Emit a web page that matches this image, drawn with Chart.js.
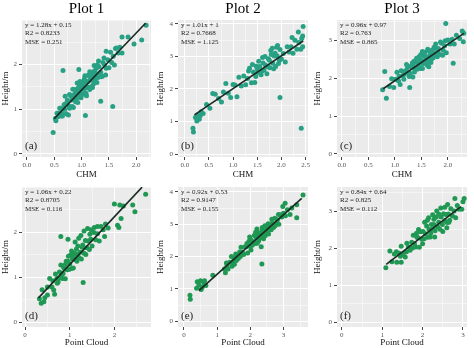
<!DOCTYPE html>
<html>
<head>
<meta charset="utf-8">
<script src="https://cdn.jsdelivr.net/npm/chart.js@4.4.1/dist/chart.umd.min.js"></script>
<style>
  body { margin: 0; background: #fff; width: 474px; height: 348px; position: relative; overflow: hidden; }
  canvas { position: absolute; }
</style>
</head>
<body>
<canvas id="c0"></canvas><canvas id="c1"></canvas><canvas id="c2"></canvas>
<canvas id="c3"></canvas><canvas id="c4"></canvas><canvas id="c5"></canvas>
<script>
// measured heights: x = CHM / point cloud, y = reference height (m)
const ptsA = [[0.52,0.79],[0.55,0.91],[0.53,0.74],[0.58,0.91],[0.60,1.02],[0.57,0.83],[0.63,0.85],[0.62,1.02],[0.66,1.00],[0.65,0.85],[0.68,1.10],[0.70,1.29],[0.69,1.00],[0.72,0.90],[0.74,1.20],[0.73,1.13],[0.76,0.87],[0.78,1.33],[0.77,1.07],[0.80,1.30],[0.79,1.05],[0.82,1.21],[0.84,1.45],[0.83,1.06],[0.86,1.32],[0.85,1.04],[0.88,1.44],[0.87,1.24],[0.90,1.39],[0.89,1.17],[0.92,1.59],[0.91,1.26],[0.94,1.39],[0.93,1.15],[0.96,1.52],[0.95,1.27],[0.98,1.59],[0.97,1.35],[1.00,1.54],[0.99,1.26],
  [1.02,1.61],[1.01,1.44],[1.04,1.35],[1.03,1.55],[1.06,1.75],[1.05,1.46],[1.08,1.36],[1.07,1.62],[1.10,1.61],[1.09,1.30],[1.12,1.76],[1.11,1.50],[1.14,1.74],[1.13,1.49],[1.16,1.65],[1.15,1.84],[1.18,1.51],[1.17,1.72],[1.20,1.49],[1.19,1.83],[1.22,1.69],[1.21,1.79],[1.24,1.62],[1.23,1.98],[1.26,1.70],[1.25,1.79],[1.28,1.60],[1.27,1.92],[1.30,1.71],[1.29,1.99],[1.33,1.81],[1.32,1.95],[1.36,1.73],[1.35,1.83],[1.39,2.05],[1.38,1.74],[1.42,2.00],[1.41,2.15],[1.45,1.92],[1.44,1.77],
  [1.48,2.11],[1.50,1.93],[1.53,2.28],[1.55,2.05],[1.58,2.19],[1.60,1.99],[1.64,2.37],[1.67,2.26],[1.70,2.39],[1.74,2.26],
  [0.88,1.35],[0.94,1.48],[1.00,1.32],[1.05,1.68],[1.12,1.62],[1.18,1.78],[1.24,1.86],[0.78,1.02],[0.70,1.12],[0.64,0.90],[1.31,2.08],[1.15,1.44],[0.97,1.62],[1.08,1.48],[1.22,1.57],
  [0.66,1.87],[0.95,1.89],[1.35,1.18],[1.57,1.06],[1.07,0.86],[0.48,0.48],[2.18,2.88],[2.10,2.55],[1.96,2.46],[1.74,2.62],[1.85,2.62],[1.45,2.30],[1.62,2.36]];
const ptsB = [[0.22,1.12],[0.26,1.20],[0.30,1.07],[0.34,1.30],[0.45,1.52],[0.52,1.41],[0.58,1.86],[0.63,1.84],[0.70,1.71],[0.76,1.60],[0.80,1.91],[0.85,2.17],[0.90,1.87],[0.95,1.74],[1.00,2.14],[1.04,2.12],[1.08,1.76],[1.12,2.36],[1.17,2.09],[1.22,2.40],[1.26,2.13],[1.30,2.32],[1.34,2.64],[1.38,2.19],[1.42,2.52],[1.45,2.20],[1.48,2.70],[1.52,2.51],[1.55,2.69],[1.58,2.44],[1.61,2.97],[1.64,2.58],[1.67,2.74],[1.70,2.47],[1.73,2.93],[1.76,2.65],[1.79,3.06],[1.82,2.79],[1.85,3.01],[1.88,2.69],[1.91,3.02],[1.94,2.78],[1.97,3.21],[2.00,2.92],[2.04,3.09],
  [2.08,2.83],[2.12,3.30],[2.16,3.14],[2.20,3.30],[2.24,3.10],[2.28,3.50],[2.32,3.22],[2.36,3.43],[2.40,3.22],[2.44,3.63],
  [1.32,2.55],[1.40,2.75],[1.47,2.38],[1.53,2.85],[1.60,2.55],[1.66,3.00],[1.72,2.68],[1.78,3.18],[1.84,2.62],[1.90,3.28],[1.96,2.88],[1.50,2.62],[1.62,2.80],[1.75,2.88],[1.87,3.10],[1.92,3.34],[1.81,3.25],[2.35,3.75],[2.42,3.55],[2.45,3.92],[2.44,3.30],[2.22,3.58],[0.25,1.02],[0.32,1.18],[0.38,1.25],
  [0.17,0.79],[0.18,0.68],[2.41,0.79],[1.97,1.74]];
const ptsC = [[0.90,1.78],[0.94,1.98],[0.98,1.75],[1.01,1.97],[1.04,2.15],[1.07,1.92],[1.10,1.83],[1.12,2.19],[1.15,2.07],[1.17,1.97],[1.20,2.19],[1.22,2.36],[1.25,2.14],[1.27,2.04],[1.30,2.31],[1.32,2.29],[1.34,2.03],[1.36,2.44],[1.38,2.24],[1.40,2.43],[1.42,2.23],[1.44,2.36],[1.46,2.57],[1.48,2.25],[1.50,2.47],[1.52,2.25],[1.54,2.59],[1.56,2.45],[1.58,2.57],[1.60,2.40],[1.62,2.76],[1.64,2.49],[1.66,2.60],[1.68,2.41],[1.70,2.73],[1.72,2.53],[1.74,2.81],[1.76,2.62],[1.78,2.78],[1.80,2.56],
  [1.82,2.78],[1.85,2.62],[1.88,2.92],[1.91,2.73],[1.94,2.85],[1.97,2.67],[2.00,3.00],[2.04,2.90],[2.08,3.02],[2.12,2.90],[2.16,3.13],[2.22,3.04],
  [1.24,2.28],[1.29,2.12],[1.33,2.40],[1.37,2.16],[1.41,2.52],[1.45,2.30],[1.49,2.62],[1.53,2.38],[1.57,2.68],[1.61,2.34],[1.65,2.72],[1.69,2.50],[1.73,2.66],[1.77,2.90],[1.81,2.70],[1.86,2.95],[1.47,2.44],[1.59,2.52],[1.35,2.33],[1.18,2.10],[1.08,2.05],[1.90,2.60],[1.95,2.98],[1.52,2.70],[1.64,2.30],
  [0.84,1.47],[0.77,1.69],[0.81,2.17],[1.96,3.44],[2.29,2.96],[2.10,2.39],[1.28,1.75],[2.27,3.24],[2.30,3.18]];
const ptsD = [[0.32,0.52],[0.38,0.72],[0.44,0.54],[0.50,0.78],[0.55,0.97],[0.60,0.78],[0.64,0.71],[0.68,1.07],[0.71,0.97],[0.74,0.89],[0.77,1.11],[0.80,1.27],[0.82,1.06],[0.84,0.97],[0.86,1.22],[0.88,1.19],[0.90,0.96],[0.92,1.35],[0.94,1.16],[0.96,1.35],[0.98,1.17],[1.00,1.29],[1.02,1.49],[1.04,1.19],[1.06,1.40],[1.08,1.20],[1.10,1.53],[1.12,1.39],[1.14,1.51],[1.16,1.35],[1.18,1.69],[1.20,1.44],[1.23,1.55],[1.26,1.40],[1.29,1.71],[1.32,1.53],[1.35,1.81],[1.38,1.65],[1.41,1.80],[1.44,1.61],
  [1.47,1.84],[1.50,1.69],[1.54,1.99],[1.58,1.83],[1.62,1.96],[1.66,1.80],[1.70,2.12],[1.75,2.05],[1.80,2.18],[1.86,2.09],
  [1.25,1.92],[1.32,2.02],[1.40,2.08],[1.48,2.05],[1.55,2.10],[1.62,2.12],[1.12,1.78],[1.20,1.86],[0.90,1.28],[0.97,1.46],[1.04,1.58],[0.85,1.08],[0.78,0.98],[0.72,0.86],[1.15,1.62],[1.28,1.66],[1.36,1.50],[1.45,1.95],[1.08,1.44],[0.62,0.92],[0.50,0.60],[0.42,0.45],[0.36,0.42],[0.66,0.62],
  [0.80,1.90],[0.96,1.84],[1.30,0.88],[2.70,2.84],[2.41,2.60],[2.46,2.45],[2.07,2.15],[2.10,2.10],[1.78,1.90],[2.12,2.60],[2.20,2.58],[2.00,2.62],[2.15,2.30]];
const ptsE = [[1.22,1.61],[1.28,1.80],[1.33,1.61],[1.38,1.82],[1.43,2.00],[1.48,1.82],[1.52,1.76],[1.56,2.08],[1.60,2.00],[1.64,1.94],[1.68,2.14],[1.72,2.29],[1.76,2.13],[1.80,2.06],[1.84,2.30],[1.88,2.30],[1.92,2.11],[1.96,2.47],[2.00,2.32],[2.03,2.50],[2.06,2.35],[2.09,2.46],[2.12,2.65],[2.15,2.40],[2.18,2.59],[2.21,2.41],[2.24,2.71],[2.27,2.60],[2.30,2.72],[2.33,2.58],[2.36,2.90],[2.39,2.68],[2.42,2.79],[2.45,2.64],[2.48,2.92],[2.51,2.76],[2.54,3.01],[2.57,2.86],[2.60,3.00],[2.63,2.83],
  [2.66,3.03],[2.70,2.90],[2.74,3.18],[2.78,3.03],[2.82,3.14],[2.86,3.00],[2.90,3.29],[2.95,3.22],[3.00,3.34],[3.06,3.26],
  [0.40,1.22],[0.45,1.12],[0.50,1.25],[0.55,1.05],[0.60,1.18],[0.38,1.02],[0.62,1.25],[0.52,0.98],[0.66,1.10],
  [1.25,1.50],[1.30,1.72],[1.45,1.70],[1.50,1.95],[1.58,1.88],[1.70,2.00],[1.90,2.40],[2.02,2.20],[2.16,2.75],[2.25,2.48],[2.35,2.80],[2.44,2.95],[2.55,2.70],[2.65,3.15],[2.75,2.95],[2.85,3.30],[2.98,3.55],[3.05,3.65],[3.12,3.45],[2.20,2.85],[2.40,2.55],[1.98,2.60],
  [0.18,0.80],[0.19,0.68],[2.35,1.77],[2.33,2.30],[3.59,3.90],[3.40,3.60],[3.20,3.30],[3.40,3.20],[0.87,1.42],[3.25,3.50]];
const ptsF = [[1.24,1.63],[1.30,1.84],[1.36,1.62],[1.42,1.86],[1.47,2.05],[1.52,1.84],[1.57,1.76],[1.61,2.13],[1.65,2.03],[1.69,1.94],[1.73,2.16],[1.77,2.35],[1.80,2.12],[1.83,2.03],[1.86,2.29],[1.89,2.28],[1.92,2.02],[1.95,2.44],[1.98,2.24],[2.01,2.45],[2.04,2.25],[2.07,2.39],[2.10,2.60],[2.13,2.29],[2.16,2.51],[2.19,2.30],[2.22,2.64],[2.25,2.51],[2.28,2.64],[2.31,2.47],[2.34,2.84],[2.37,2.58],[2.40,2.70],[2.43,2.51],[2.46,2.84],[2.49,2.64],[2.52,2.93],[2.55,2.74],[2.58,2.91],[2.61,2.69],
  [2.64,2.92],[2.67,2.75],[2.70,3.06],[2.74,2.87],[2.78,3.00],[2.82,2.82],[2.86,3.15],[2.90,3.05],
  [2.05,2.70],[2.15,2.82],[2.25,2.90],[2.35,3.00],[2.45,3.08],[2.55,3.10],[2.62,3.18],[2.30,2.30],[2.50,2.45],[2.00,2.12],[1.90,2.50],[1.75,2.00],[2.20,2.40],[2.40,2.92],[2.60,2.55],[2.12,2.75],[1.85,2.40],[2.65,2.70],[2.28,2.78],[1.60,1.90],[1.35,1.90],[1.45,1.78],
  [1.09,1.47],[3.03,3.34],[2.80,3.34],[1.19,1.92],[1.47,1.62],[2.97,3.05],[3.00,3.25]];

const points = [ptsA, ptsB, ptsC, ptsD, ptsE, ptsF];
const titles = ['Plot 1', 'Plot 2', 'Plot 3'];
const tags = ['(a)', '(b)', '(c)', '(d)', '(e)', '(f)'];
const xTitles = ['CHM', 'CHM', 'CHM', 'Point Cloud', 'Point Cloud', 'Point Cloud'];
const eqs = ['y = 1.28x + 0.15', 'y = 1.01x + 1', 'y = 0.96x + 0.97', 'y = 1.06x + 0.22', 'y = 0.92x + 0.53', 'y = 0.84x + 0.64'];
const slopes = [1.28, 1.01, 0.96, 1.06, 0.92, 0.84];
const intercepts = [0.15, 1, 0.97, 0.22, 0.53, 0.64];
const r2 = ['0.8233', '0.7668', '0.763', '0.8705', '0.9147', '0.825'];
const mse = ['0.251', '1.125', '0.865', '0.116', '0.155', '0.112'];
const fitFrom = [0.5, 0.2, 0.78, 0.3, 0.45, 1.1];
const fitTo = [2.17, 2.45, 2.3, 2.62, 3.55, 2.95];
const xTicks = [[0, 0.5, 1, 1.5, 2], [0, 0.5, 1, 1.5, 2, 2.5], [0, 0.5, 1, 1.5, 2], [0, 1, 2], [0, 1, 2, 3], [0, 1, 2, 3]];
const yTicks = [[0, 1, 2], [0, 1, 2, 3, 4], [0, 1, 2, 3], [0, 1, 2], [0, 1, 2, 3, 4], [0, 1, 2, 3]];
const xRanges = [[-0.09, 2.27], [-0.14, 2.55], [-0.09, 2.36], [-0.07, 2.82], [-0.18, 3.74], [-0.12, 3.1]];
const yRanges = [[-0.07, 3.0], [-0.09, 4.12], [-0.08, 3.53], [-0.11, 3.0], [-0.18, 4.15], [-0.13, 3.65]];

const SERIF = "'Liberation Serif', 'Times New Roman', serif";
Chart.defaults.font.family = SERIF;

// canvas boxes, per column and row
const colLeft = [0, 155, 312], colWidth = [155, 157, 162], yAxisW = [22, 23, 25], padRight = [3, 2, 7];
const rowTop = [0, 180], rowHeight = [180, 168], padTop = [20, 7], xAxisH = [23, 21];
const dotColor = ['#28a084', '#1f9853'];

// major ticks plus ggplot-style minor breaks halfway
function gridValues(major, range) {
  const half = (major[1] - major[0]) / 2;
  const out = [];
  for (let v = major[0] - half; v <= range[1] + 1e-9; v += half) {
    if (v >= range[0]) out.push(Math.round(v * 1000) / 1000);
  }
  return out;
}
const isIn = (list, v) => list.some(m => Math.abs(m - v) < 1e-6);

const panelDeco = {
  id: 'panelDeco',
  beforeDraw(chart) {
    const { ctx, chartArea: a } = chart;
    ctx.save();
    ctx.fillStyle = '#ebebeb';
    ctx.fillRect(a.left, a.top, a.right - a.left, a.bottom - a.top);
    ctx.restore();
  },
  afterDraw(chart, args, o) {
    const { ctx, chartArea: a } = chart;
    ctx.save();
    ctx.fillStyle = '#1a1a1a';
    ctx.textBaseline = 'middle';
    ctx.font = '7px ' + SERIF;
    o.lines.forEach((t, k) => ctx.fillText(t, a.left + 3, a.top + 5 + k * 8.5));
    ctx.font = '11px ' + SERIF;
    ctx.fillText(o.tag, a.left + 3, a.bottom - 11);
    if (o.title) {
      ctx.font = '15px ' + SERIF;
      ctx.fillStyle = '#000';
      ctx.textAlign = 'center';
      ctx.fillText(o.title, (a.left + a.right) / 2, 9);
    }
    ctx.restore();
  }
};

for (let i = 0; i < 6; i++) {
  const col = i % 3, row = Math.floor(i / 3);
  const canvas = document.getElementById('c' + i);
  canvas.width = colWidth[col];
  canvas.height = rowHeight[row];
  canvas.style.left = colLeft[col] + 'px';
  canvas.style.top = rowTop[row] + 'px';

  const xGrid = gridValues(xTicks[i], xRanges[i]);
  const yGrid = gridValues(yTicks[i], yRanges[i]);
  const decimals = row === 0 ? 1 : 0;

  const gridOpts = (major) => ({
    color: '#ffffff',
    lineWidth: c => (c.tick && isIn(major, c.tick.value)) ? 1 : 0.5,
    tickColor: c => (c.tick && isIn(major, c.tick.value)) ? '#444' : 'rgba(0,0,0,0)',
    tickLength: 3
  });

  new Chart(canvas, {
    type: 'scatter',
    data: {
      datasets: [{
        data: points[i],
        backgroundColor: dotColor[row],
        borderWidth: 0,
        pointRadius: 2.5,
        order: 2
      }, {
        type: 'line',
        data: [
          { x: fitFrom[i], y: slopes[i] * fitFrom[i] + intercepts[i] },
          { x: fitTo[i], y: slopes[i] * fitTo[i] + intercepts[i] }
        ],
        borderColor: '#1b2a22',
        borderWidth: 1.6,
        pointRadius: 0,
        order: 1
      }]
    },
    options: {
      responsive: false,
      animation: false,
      layout: { padding: { top: padTop[row], right: padRight[col], left: 0, bottom: 0 } },
      plugins: {
        legend: { display: false },
        tooltip: { enabled: false },
        panelDeco: {
          lines: [eqs[i], 'R2 = ' + r2[i], 'MSE = ' + mse[i]],
          tag: tags[i],
          title: row === 0 ? titles[col] : null
        }
      },
      scales: {
        x: {
          type: 'linear',
          min: xRanges[i][0],
          max: xRanges[i][1],
          afterBuildTicks: s => { s.ticks = xGrid.map(v => ({ value: v })); },
          afterFit: s => { s.height = xAxisH[row]; },
          grid: gridOpts(xTicks[i]),
          border: { display: false },
          ticks: {
            autoSkip: false, maxRotation: 0, padding: 1, color: '#555', font: { size: 7 },
            callback: v => isIn(xTicks[i], v) ? v.toFixed(decimals) : ''
          },
          title: { display: true, text: xTitles[i], color: '#111', font: { size: 9 }, padding: 0 }
        },
        y: {
          type: 'linear',
          min: yRanges[i][0],
          max: yRanges[i][1],
          afterBuildTicks: s => { s.ticks = yGrid.map(v => ({ value: v })); },
          afterFit: s => { s.width = yAxisW[col]; },
          grid: gridOpts(yTicks[i]),
          border: { display: false },
          ticks: {
            autoSkip: false, padding: 2, color: '#555', font: { size: 7 },
            callback: v => isIn(yTicks[i], v) ? v.toFixed(0) : ''
          },
          title: { display: true, text: 'Height/m', color: '#111', font: { size: 9 }, padding: 0 }
        }
      }
    },
    plugins: [panelDeco]
  });
}
</script>
</body>
</html>
